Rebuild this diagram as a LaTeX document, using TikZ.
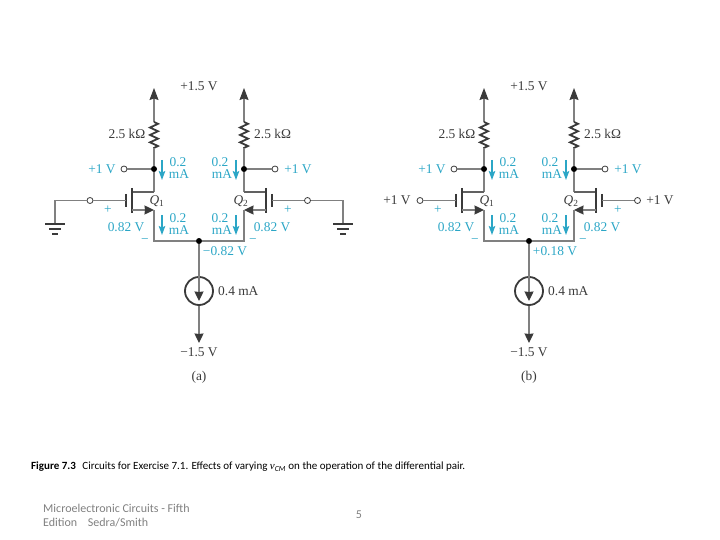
\documentclass[tikz,border=0pt]{standalone}
\usepackage{fontspec}
\setmainfont{Liberation Serif}
\newfontfamily\capfont{Carlito}
\usetikzlibrary{arrows.meta,decorations.pathmorphing}
\definecolor{wire}{HTML}{808080}
\definecolor{dark}{HTML}{3A3A3A}
\definecolor{cur}{HTML}{2BA6C6}
\tikzset{
  wire/.style={draw=wire,line width=1.2pt},
  stub/.style={draw=dark!80,line width=1.3pt},
  fet/.style={draw=dark,line width=1.7pt},
  res/.style={draw=dark,line width=1.8pt,decorate,decoration={zigzag,segment length=7.4pt,amplitude=4pt}},
  rail/.style={wire,-{Stealth[length=12pt,width=9pt,inset=1.5pt,color=dark]}},
  src/.style={wire,-{Stealth[length=9.5pt,width=9pt,inset=0.5pt,color=dark]}},
  amp/.style={draw=cur,line width=1.2pt,-{Stealth[length=9pt,width=6.5pt,inset=1.5pt]}},
  gnd/.style={draw=dark,line width=1.7pt},
  dot/.style={circle,fill=black,inner sep=0pt,minimum size=6pt},
  term/.style={circle,draw=dark,fill=white,line width=.8pt,inner sep=0pt,minimum size=6pt},
  lab/.style={font=\fontsize{13.4}{13}\selectfont,text=dark,inner sep=0pt},
  blue/.style={lab,text=cur},
}
\begin{document}
\begin{tikzpicture}[x=1pt,y=-1pt]
  \useasboundingbox (0,0) rectangle (720,540);

  % both circuits, (b) is (a) moved right
  \foreach \ckt/\dx/\tail in {a/0/{−0.82 V},b/330/{+0.18 V}} {
  \begin{scope}[shift={(\dx,0)}]
    \node[dot] (\ckt-d1) at (154,169) {};
    \node[dot] (\ckt-d2) at (244,169) {};
    \node[dot] (\ckt-s) at (199,241) {};
    \node[term] (\ckt-t1) at (124,169) {};
    \node[term] (\ckt-t2) at (275,169) {};
    \node[term] (\ckt-g1) at (90,200.5) {};
    \node[term] (\ckt-g2) at (307.5,200.5) {};
    \node[circle,draw=dark,line width=1.8pt,minimum size=28pt,inner sep=0pt] (\ckt-i) at (199,291) {};

    \coordinate (\ckt-v1) at (154,88);
    \coordinate (\ckt-v2) at (244,88);
    \coordinate (\ckt-r1t) at (154,122);
    \coordinate (\ckt-r1b) at (154,148);
    \coordinate (\ckt-r2t) at (244,122);
    \coordinate (\ckt-r2b) at (244,148);
    \coordinate (\ckt-q1d) at (154,192);
    \coordinate (\ckt-q2d) at (244,192);
    \coordinate (\ckt-q1s) at (154,210);
    \coordinate (\ckt-q2s) at (244,210);
    \coordinate (\ckt-c1s) at (154,241);
    \coordinate (\ckt-c2s) at (244,241);
    \coordinate (\ckt-ch1d) at (132,192);
    \coordinate (\ckt-ch2d) at (266,192);
    \coordinate (\ckt-ch1s) at (132,210);
    \coordinate (\ckt-ch2s) at (266,210);
    \coordinate (\ckt-gt1) at (126,200.5);
    \coordinate (\ckt-gt2) at (272,200.5);
    \coordinate (\ckt-vee) at (199,343);
    \coordinate (\ckt-ia) at (199,301);

    % supply side
    \draw[rail] (\ckt-r1t) -- (\ckt-v1);
    \draw[rail] (\ckt-r2t) -- (\ckt-v2);
    \draw[res] (\ckt-r1t) -- (\ckt-r1b);
    \draw[res] (\ckt-r2t) -- (\ckt-r2b);
    \draw[wire] (\ckt-r1b) -- (\ckt-d1) -- (\ckt-q1d);
    \draw[wire] (\ckt-r2b) -- (\ckt-d2) -- (\ckt-q2d);
    \draw[wire] (\ckt-t1) -- (\ckt-d1);
    \draw[wire] (\ckt-d2) -- (\ckt-t2);

    % the two transistors
    \draw[stub] (\ckt-q1d) -- (\ckt-ch1d);
    \draw[stub] (\ckt-q2d) -- (\ckt-ch2d);
    \draw[fet] (132,188) -- (132,213);
    \draw[fet] (126,194) -- (126,207);
    \draw[fet] (266,188) -- (266,213);
    \draw[fet] (272,194) -- (272,207);
    \draw[src] (\ckt-ch1s) -- (\ckt-q1s);
    \draw[src] (\ckt-ch2s) -- (\ckt-q2s);
    \draw[wire] (\ckt-g1) -- (\ckt-gt1);
    \draw[wire] (\ckt-gt2) -- (\ckt-g2);

    % tail
    \draw[wire] (\ckt-q1s) -- (\ckt-c1s) -- (\ckt-s);
    \draw[wire] (\ckt-q2s) -- (\ckt-c2s) -- (\ckt-s);
    \draw[wire] (\ckt-s) -- (\ckt-i);
    \draw[src] (\ckt-i) -- (\ckt-vee);
    \draw[src] (\ckt-i.north) -- (\ckt-ia);

    % currents
    \coordinate (\ckt-u1) at (162,160);
    \coordinate (\ckt-u2) at (162,180);
    \coordinate (\ckt-u3) at (162,215);
    \coordinate (\ckt-u4) at (162,235);
    \coordinate (\ckt-w1) at (236,160);
    \coordinate (\ckt-w2) at (236,180);
    \coordinate (\ckt-w3) at (236,215);
    \coordinate (\ckt-w4) at (236,235);
    \draw[amp] (\ckt-u1) -- (\ckt-u2);
    \draw[amp] (\ckt-u3) -- (\ckt-u4);
    \draw[amp] (\ckt-w1) -- (\ckt-w2);
    \draw[amp] (\ckt-w3) -- (\ckt-w4);

    \node[lab] (\ckt-vcc) at (199,86) {+1.5 V};
    \node[lab] (\ckt-vss) at (199,352) {−1.5 V};
    \node[lab] (\ckt-rl) at (127,134) {2.5 kΩ};
    \node[lab,anchor=west] (\ckt-rr) at (254,134) {2.5 kΩ};
    \node[lab,anchor=west] (\ckt-ival) at (218,291) {0.4 mA};
    \node[lab] (\ckt-q1) at (157,201) {\textit{Q}\textsubscript{1}};
    \node[lab] (\ckt-q2) at (241,201) {\textit{Q}\textsubscript{2}};
    \node[blue] (\ckt-v1l) at (102,169) {+1 V};
    \node[blue] (\ckt-v2l) at (298,169) {+1 V};
    \node[blue] (\ckt-a1) at (178,162) {0.2};
    \node[blue] (\ckt-a2) at (179,174) {mA};
    \node[blue] (\ckt-a3) at (178,218) {0.2};
    \node[blue] (\ckt-a4) at (179,230) {mA};
    \node[blue] (\ckt-b1) at (220,162) {0.2};
    \node[blue] (\ckt-b2) at (222,174) {mA};
    \node[blue] (\ckt-b3) at (220,218) {0.2};
    \node[blue] (\ckt-b4) at (222,230) {mA};
    \node[blue] (\ckt-p1) at (108,210) {+};
    \node[blue] (\ckt-p2) at (288,210) {+};
    \node[blue] (\ckt-vs1) at (126,227) {0.82 V};
    \node[blue] (\ckt-vs2) at (272,227) {0.82 V};
    \node[blue] (\ckt-m1) at (145,241) {−};
    \node[blue] (\ckt-m2) at (253,241) {−};
    \node[blue] (\ckt-vt) at (225,251) {\tail};
    \node[lab] (\ckt-name) at (199,377) {(\ckt)};
  \end{scope}
  }

  % grounded gates of (a)
  \coordinate (gl) at (55,200.5);
  \coordinate (gl0) at (55,224);
  \coordinate (gr) at (343,200.5);
  \coordinate (gr0) at (343,224);
  \draw[wire] (a-g1) -- (gl) -- (gl0);
  \draw[wire] (a-g2) -- (gr) -- (gr0);
  \draw[gnd] (45,224) -- (65,224) (49,229) -- (61,229) (52,234) -- (58,234);
  \draw[gnd] (333,224) -- (353,224) (337,229) -- (349,229) (340,234) -- (346,234);

  % gates of (b)
  \node[lab] (b-gl) at (397,200) {+1 V};
  \node[lab] (b-gr) at (660,200) {+1 V};

  \node[anchor=west,inner sep=0pt,font=\capfont\fontsize{11}{13}\selectfont] (caption) at (31,467)
    {\textbf{Figure 7.3}\hspace{4pt} Circuits for Exercise 7.1. Effects of varying {\rmfamily\textit{v}}\textsubscript{\textit{CM}} on the operation of the differential pair.};
  \node[anchor=north west,inner sep=0pt,align=left,text=gray,font=\capfont\fontsize{12}{14}\selectfont] (footer) at (43,503.5)
    {Microelectronic Circuits - Fifth\\Edition\hspace{8pt} Sedra/Smith};
  \node[inner sep=0pt,text=gray,font=\capfont\fontsize{12}{14}\selectfont] (page) at (359,515) {5};
\end{tikzpicture}
\end{document}
